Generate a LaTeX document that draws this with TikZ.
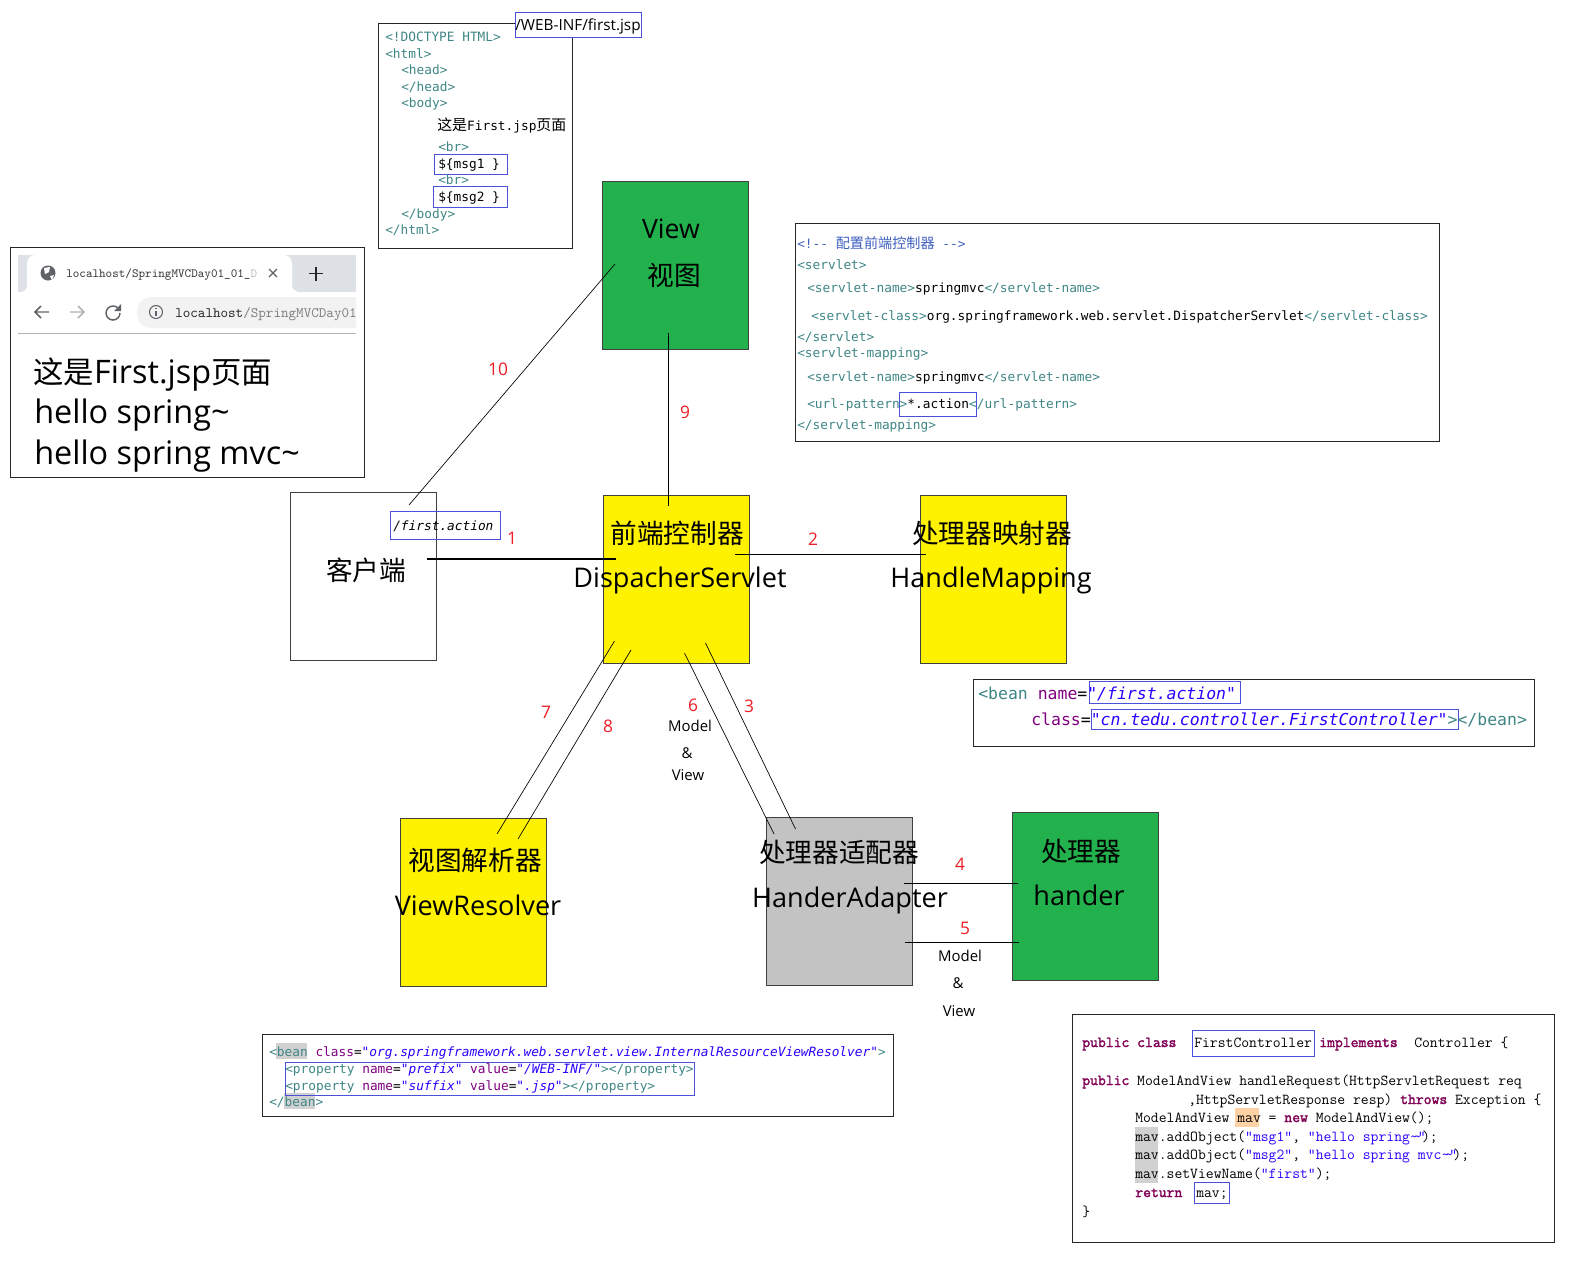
\documentclass[tikz,border=0pt]{standalone}
\usepackage{fontspec}
\setmainfont{Open Sans}
\newfontfamily\cjk{Noto Sans CJK SC}
\newfontfamily\codefont{DejaVu Sans Mono}
\newfontfamily\javabold[FakeBold=2]{Latin Modern Mono}
\definecolor{boxyellow}{HTML}{FFF200}
\definecolor{boxgreen}{HTML}{22B14C}
\definecolor{boxgray}{HTML}{C3C3C3}
\definecolor{numred}{HTML}{ED1C24}
\definecolor{markblue}{HTML}{4A50D8}
\definecolor{tagteal}{HTML}{3F8585}
\definecolor{attrpurple}{HTML}{7F007F}
\definecolor{valblue}{HTML}{2A00FF}
\definecolor{commentblue}{HTML}{3F5FBF}
\definecolor{kwpurple}{HTML}{7F0055}
\definecolor{tabgray}{HTML}{DEE1E6}
\definecolor{iconsgray}{HTML}{5F6368}
\newcommand{\tagtxt}[1]{\textcolor{tagteal}{#1}}
\newcommand{\attrtxt}[1]{\textcolor{attrpurple}{#1}}
\newcommand{\valtxt}[1]{\textcolor{valblue}{\itshape #1}}
\newcommand{\kwtxt}[1]{\textcolor{kwpurple}{\javabold #1}}
\newcommand{\strtxt}[1]{\textcolor{valblue}{#1}}
\newcommand{\tildeend}{\textasciitilde\hspace{-2.9pt}\textasciitilde\hspace{-2.9pt}"\hspace{-2.8pt}}
\tikzset{
  mainbox/.style={draw=black!75, line width=.7pt, minimum width=109.5pt, minimum height=126pt, inner sep=0pt},
  panel/.style={draw=black!85, line width=.7pt},
  bluebox/.style={draw=markblue, line width=.7pt},
  link/.style={draw=black, line width=.5pt},
  cnlabel/.style={font=\cjk\fontsize{20}{24}\selectfont, inner sep=0pt},
  enlabel/.style={font=\fontsize{20.3}{25}\selectfont, inner sep=0pt},
  numlabel/.style={font=\fontsize{13}{16}\selectfont, text=numred, inner sep=0pt},
  smalllabel/.style={font=\fontsize{11.2}{14}\selectfont, inner sep=0pt},
  codeline/.style={font=\codefont\fontsize{9.6}{12}\selectfont, anchor=base west, inner sep=0pt},
  beanline/.style={font=\codefont\fontsize{12.35}{15}\selectfont, anchor=base west, inner sep=0pt},
  javaline/.style={font=\ttfamily\fontsize{11.43}{14}\selectfont, anchor=base west, inner sep=0pt},
  pageline/.style={font=\fontsize{24.3}{30}\selectfont, anchor=base west, inner sep=0pt},
}
\begin{document}
\begin{tikzpicture}[x=0.75pt, y=-0.75pt]
  \useasboundingbox (0,0) rectangle (1570,1264);

  % Main boxes
  \node[mainbox, fill=boxgreen] (View) at (675,265.5) {};
  \node[mainbox] (Client) at (363.5,576) {};
  \node[mainbox, fill=boxyellow] (Front) at (676.5,579.5) {};
  \node[mainbox, fill=boxyellow] (Mapping) at (993,579.5) {};
  \node[mainbox, fill=boxyellow] (Resolver) at (473,902) {};
  \node[mainbox, fill=boxgray] (Adapter) at (839.5,901) {};
  \node[mainbox, fill=boxgreen] (Hander) at (1085,896) {};

  % Free ends of the connectors
  \coordinate (ClientOut) at (427,559);
  \coordinate (FrontIn) at (616,559);
  \coordinate (FrontRight) at (735,554);
  \coordinate (MappingIn) at (926,554);
  \coordinate (FrontDownA) at (705.5,643);
  \coordinate (AdapterUpA) at (795.5,829);
  \coordinate (AdapterRightA) at (903.5,883);
  \coordinate (HanderInA) at (1018,883);
  \coordinate (AdapterRightB) at (904.5,942);
  \coordinate (HanderInB) at (1019,942);
  \coordinate (FrontDownB) at (684.5,653);
  \coordinate (AdapterUpB) at (774,834);
  \coordinate (FrontLeftA) at (614.5,641);
  \coordinate (ResolverUpA) at (497,834);
  \coordinate (FrontLeftB) at (631,650);
  \coordinate (ResolverUpB) at (518,839);
  \coordinate (FrontUp) at (668.5,506);
  \coordinate (ViewDown) at (668.5,333);
  \coordinate (ViewLeft) at (615,264);
  \coordinate (ClientUp) at (409,505);

  % Connectors
  \draw[link, line width=.8pt] (ClientOut) -- (FrontIn);
  \draw[link] (FrontRight) -- (MappingIn);
  \draw[link] (FrontDownA) -- (AdapterUpA);
  \draw[link] (AdapterRightA) -- (HanderInA);
  \draw[link, line width=.7pt] (AdapterRightB) -- (HanderInB);
  \draw[link] (FrontDownB) -- (AdapterUpB);
  \draw[link] (FrontLeftA) -- (ResolverUpA);
  \draw[link] (FrontLeftB) -- (ResolverUpB);
  \draw[link] (FrontUp) -- (ViewDown);
  \draw[link] (ViewLeft) -- (ClientUp);

  % Labels of the boxes
  \node[cnlabel] (ViewEn) at (671,229) {\fontspec{Open Sans}View};
  \node[cnlabel] (ViewCn) at (674,275) {视图};
  \node[cnlabel] (ClientCn) at (366,570) {客户端};
  \node[cnlabel] (FrontCn) at (677,533) {前端控制器};
  \node[enlabel] (FrontEn) at (680,580.5) {DispacherServlet};
  \node[cnlabel] (MappingCn) at (992,533) {处理器映射器};
  \node[enlabel] (MappingEn) at (991,580.5) {HandleMapping};
  \node[cnlabel] (ResolverCn) at (475,860) {视图解析器};
  \node[enlabel] (ResolverEn) at (478,905) {ViewResolver};
  \node[cnlabel] (AdapterCn) at (839,852.5) {处理器适配器};
  \node[enlabel] (AdapterEn) at (850,900.5) {HanderAdapter};
  \node[cnlabel] (HanderCn) at (1081,851) {处理器};
  \node[enlabel] (HanderEn) at (1079,895.5) {hander};

  % Numbers on the connectors
  \node[numlabel] (NumA) at (512,538) {1};
  \node[numlabel] (NumB) at (813,539) {2};
  \node[numlabel] (NumC) at (749,706) {3};
  \node[numlabel] (NumD) at (960,864) {4};
  \node[numlabel] (NumE) at (965,928) {5};
  \node[numlabel] (NumF) at (693,705) {6};
  \node[numlabel] (NumG) at (546,712) {7};
  \node[numlabel] (NumH) at (608,726) {8};
  \node[numlabel] (NumI) at (685,412) {9};
  \node[numlabel] (NumJ) at (498,369) {10};
  \node[smalllabel] (ModelA) at (690,726) {Model};
  \node[smalllabel] (AndA) at (687,753) {\&};
  \node[smalllabel] (ViewA) at (688,775) {View};
  \node[smalllabel] (ModelB) at (960,956) {Model};
  \node[smalllabel] (AndB) at (958,983) {\&};
  \node[smalllabel] (ViewB) at (959,1011) {View};

  % Request box on the client
  \draw[bluebox] (390,511) rectangle (500,539);
  \node[codeline] (RequestUrl) at (393,530) {\itshape /first.action};

  % The jsp page
  \draw[panel] (378,23) rectangle (572,248);
  \draw[bluebox, fill=white] (515,12) rectangle (641,37);
  \node[inner sep=0pt, font=\fontsize{11.5}{14}\selectfont] (JspName) at (578,26) {/WEB-INF/first.jsp};
  \draw[bluebox] (434,154) rectangle (507,174);
  \draw[bluebox] (433,186) rectangle (507,207);
  \node[codeline] (JspA) at (385,41) {\tagtxt{<!DOCTYPE HTML>}};
  \node[codeline] (JspB) at (385,58) {\tagtxt{<html>}};
  \node[codeline] (JspC) at (401,74) {\tagtxt{<head>}};
  \node[codeline] (JspD) at (401,91) {\tagtxt{</head>}};
  \node[codeline] (JspE) at (401,107) {\tagtxt{<body>}};
  \node[codeline] (JspF) at (437,130) {{\cjk\fontsize{11.2}{12}\selectfont 这是}First.jsp{\cjk\fontsize{11.2}{12}\selectfont 页面}};
  \node[codeline] (JspG) at (438,151) {\tagtxt{<br>}};
  \node[codeline] (JspH) at (438,168) {\$\{msg1 \}};
  \node[codeline] (JspI) at (438,184) {\tagtxt{<br>}};
  \node[codeline] (JspJ) at (438,201) {\$\{msg2 \}};
  \node[codeline] (JspK) at (401,218) {\tagtxt{</body>}};
  \node[codeline] (JspL) at (385,234) {\tagtxt{</html>}};

  % The browser
  \draw[panel] (10,247) rectangle (364,477);
  \fill[tabgray] (18,255) rectangle (356,292);
  \fill[white] (22,292) .. controls (27,290) and (27,288) .. (27,284) -- (27,265)
    .. controls (27,258) and (30,255) .. (36,255) -- (283,255)
    .. controls (289,255) and (292,258) .. (292,265) -- (292,284)
    .. controls (292,288) and (293,290) .. (298,292) -- cycle;
  \begin{scope}
    \clip (130,290) rectangle (356,332);
    \fill[black!5, rounded corners=11pt] (137,297) rectangle (400,328);
  \end{scope}
  \draw[black!30] (18,333) -- (356,333);
  \fill[iconsgray] (48,273) circle (7.5);
  \fill[white] (44,268) -- (50,267) -- (49,272) -- (45,274) -- cycle;
  \fill[white] (50,276) -- (54,275) -- (52,280) -- cycle;
  \draw[iconsgray, line width=1pt] (269,269) -- (277,277) (277,269) -- (269,277);
  \draw[black!85, line width=1.2pt] (309,273.5) -- (323,273.5) (316,266.5) -- (316,280.5);
  \draw[iconsgray, line width=1.1pt] (49,312) -- (35,312) (41,306) -- (35,312) -- (41,318);
  \draw[black!30, line width=1.1pt] (70,312) -- (84,312) (78,306) -- (84,312) -- (78,318);
  \draw[iconsgray, line width=1.1pt] (120,313) arc[start angle=0, end angle=310, radius=7];
  \fill[iconsgray] (121,304) -- (121,311) -- (114,311) -- cycle;
  \draw[iconsgray, line width=.8pt] (156,312) circle (6.5);
  \draw[iconsgray, line width=.9pt] (156,311) -- (156,316) (156,307.5) -- (156,309);
  \node[javaline, font=\ttfamily\fontsize{9.4}{11}\selectfont, text=black!75] (TabText) at (66,277) {localhost/SpringMVCDay01\_01\_\textcolor{black!25}{D}};
  \begin{scope}
    \clip (170,297) rectangle (356,328);
    \node[javaline, font=\ttfamily\fontsize{10.8}{13}\selectfont, text=black!85] (UrlText) at (175,317) {localhost\textcolor{black!50}{/SpringMVCDay01}};
  \end{scope}
  \node[pageline] (PageA) at (33,383) {{\cjk\fontsize{22.8}{30}\selectfont 这是}First.jsp{\cjk\fontsize{22.8}{30}\selectfont 页面}};
  \node[pageline] (PageB) at (34,423) {hello spring\textasciitilde};
  \node[pageline] (PageC) at (34,464) {hello spring mvc\textasciitilde};

  % The servlet config
  \draw[panel] (795,223) rectangle (1439,441);
  \draw[bluebox] (899,392) rectangle (976,416);
  \node[codeline, text=commentblue] (WebA) at (797,248) {<!-- {\cjk\fontsize{10.6}{12}\selectfont 配置前端控制器} -->};
  \node[codeline] (WebB) at (797,269) {\tagtxt{<servlet>}};
  \node[codeline] (WebC) at (807,292) {\tagtxt{<servlet-name>}springmvc\tagtxt{</servlet-name>}};
  \node[codeline] (WebD) at (811,320) {\tagtxt{<servlet-class>}org.springframework.web.servlet.DispatcherServlet\tagtxt{</servlet-class>}};
  \node[codeline] (WebE) at (797,341) {\tagtxt{</servlet>}};
  \node[codeline] (WebF) at (797,357) {\tagtxt{<servlet-mapping>}};
  \node[codeline] (WebG) at (807,381) {\tagtxt{<servlet-name>}springmvc\tagtxt{</servlet-name>}};
  \node[codeline] (WebH) at (807,408) {\tagtxt{<url-pattern>}*.action\tagtxt{</url-pattern>}};
  \node[codeline] (WebI) at (797,429) {\tagtxt{</servlet-mapping>}};

  % The handler bean
  \draw[panel] (973,679) rectangle (1534,746);
  \draw[bluebox] (1089,681) rectangle (1240,703);
  \draw[bluebox] (1091,709) rectangle (1458,729);
  \node[beanline] (BeanA) at (978,699) {\tagtxt{<bean} \attrtxt{name}=\valtxt{"/first.action"}};
  \node[beanline] (BeanB) at (1031,725) {\attrtxt{class}=\valtxt{"cn.tedu.controller.FirstController"}\tagtxt{></bean>}};

  % The view resolver bean
  \draw[panel] (262,1034) rectangle (893,1116);
  \fill[black!18] (276,1043) rectangle (307,1059);
  \fill[black!18] (284,1093) rectangle (315,1109);
  \draw[bluebox] (285,1062) rectangle (694,1095);
  \node[codeline] (ResolverA) at (269,1056) {\tagtxt{<bean} \attrtxt{class}=\valtxt{"org.springframework.web.servlet.view.InternalResourceViewResolver"}\tagtxt{>}};
  \node[codeline] (ResolverB) at (285,1073) {\tagtxt{<property} \attrtxt{name}=\valtxt{"prefix"} \attrtxt{value}=\valtxt{"/WEB-INF/"}\tagtxt{></property>}};
  \node[codeline] (ResolverC) at (285,1090) {\tagtxt{<property} \attrtxt{name}=\valtxt{"suffix"} \attrtxt{value}=\valtxt{".jsp"}\tagtxt{></property>}};
  \node[codeline] (ResolverD) at (269,1106) {\tagtxt{</bean>}};

  % The controller
  \draw[panel] (1072,1014) rectangle (1554,1242);
  \fill[orange!35] (1235,1108) rectangle (1259,1127);
  \fill[black!18] (1135,1127) rectangle (1158,1183);
  \draw[bluebox] (1192,1030) rectangle (1314,1056);
  \draw[bluebox] (1194,1182) rectangle (1229,1203);
  \node[javaline] (JavaA) at (1082,1047) {\kwtxt{public class}};
  \node[javaline] (JavaB) at (1194,1047) {FirstController};
  \node[javaline] (JavaC) at (1319,1047) {\kwtxt{implements}};
  \node[javaline] (JavaD) at (1414,1047) {Controller \{};
  \node[javaline] (JavaE) at (1082,1085) {\kwtxt{public} ModelAndView handleRequest(HttpServletRequest req};
  \node[javaline] (JavaF) at (1188,1104) {,HttpServletResponse resp) \kwtxt{throws} Exception \{};
  \node[javaline] (JavaG) at (1135,1122) {ModelAndView mav = \kwtxt{new} ModelAndView();};
  \node[javaline] (JavaH) at (1135,1141) {mav.addObject(\strtxt{"msg1"}, \strtxt{"hello spring\tildeend});};
  \node[javaline] (JavaI) at (1135,1159) {mav.addObject(\strtxt{"msg2"}, \strtxt{"hello spring mvc\tildeend});};
  \node[javaline] (JavaJ) at (1135,1178) {mav.setViewName(\strtxt{"first"});};
  \node[javaline] (JavaK) at (1135,1197) {\kwtxt{return}};
  \node[javaline] (JavaM) at (1196,1197) {mav;};
  \node[javaline] (JavaL) at (1082,1216) {\}};
\end{tikzpicture}
\end{document}
